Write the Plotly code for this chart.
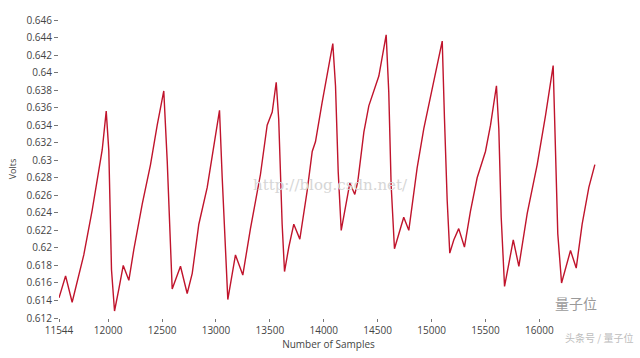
import plotly.graph_objects as go

# Sample index and voltage readings
samples = [11544, 11605, 11666, 11713, 11774, 11852, 11913, 11945, 11982,
           12006, 12031, 12059, 12099, 12140, 12192, 12238, 12316, 12393, 12455, 12516,
           12548, 12594, 12671, 12733, 12780, 12841, 12919, 12980, 13033,
           13058, 13110, 13181, 13249, 13320, 13413, 13475, 13522, 13559,
           13582, 13614, 13636, 13676, 13722, 13778, 13846, 13893, 13923, 13985, 14084,
           14109, 14134, 14162, 14202, 14242, 14288, 14316, 14372, 14418, 14511, 14579,
           14603, 14625, 14656, 14696, 14742, 14789, 14866, 14928, 15006, 15099,
           15120, 15145, 15169, 15206, 15252, 15305, 15361, 15423, 15500, 15547, 15602,
           15624, 15646, 15677, 15717, 15758, 15810, 15887, 15980, 16057, 16128,
           16150, 16171, 16206, 16252, 16289, 16342, 16397, 16459, 16515]
volts = [0.6143, 0.6168, 0.6138, 0.6161, 0.6192, 0.6243, 0.6286, 0.6312, 0.6356,
         0.6311, 0.6175, 0.6128, 0.6153, 0.6180, 0.6163, 0.6198, 0.6250, 0.6295, 0.6340, 0.6379,
         0.6299, 0.6153, 0.6179, 0.6148, 0.6171, 0.6227, 0.6269, 0.6317, 0.6357,
         0.6280, 0.6141, 0.6192, 0.6169, 0.6222, 0.6284, 0.6340, 0.6355, 0.6389,
         0.6347, 0.6227, 0.6173, 0.6201, 0.6227, 0.6210, 0.6265, 0.6310, 0.6321, 0.6366, 0.6433,
         0.6385, 0.6287, 0.6220, 0.6246, 0.6274, 0.6261, 0.6276, 0.6332, 0.6362, 0.6396, 0.6443,
         0.6378, 0.6272, 0.6199, 0.6216, 0.6235, 0.6220, 0.6291, 0.6336, 0.6382, 0.6436,
         0.6347, 0.6254, 0.6194, 0.6209, 0.6222, 0.6201, 0.6242, 0.6280, 0.6310, 0.6340, 0.6385,
         0.6336, 0.6235, 0.6156, 0.6182, 0.6209, 0.6179, 0.6239, 0.6295, 0.6351, 0.6408,
         0.6310, 0.6216, 0.6160, 0.6182, 0.6197, 0.6177, 0.6227, 0.6269, 0.6295]

x_ticks = [11544, 12000, 12500, 13000, 13500, 14000, 14500, 15000, 15500, 16000]
y_ticks = [0.612, 0.614, 0.616, 0.618, 0.62, 0.622, 0.624, 0.626, 0.628, 0.63,
           0.632, 0.634, 0.636, 0.638, 0.64, 0.642, 0.644, 0.646]
y_tick_text = [("%.3f" % v).rstrip("0") for v in y_ticks]

fig = go.Figure()
fig.add_trace(go.Scatter(x=samples, y=volts, mode="lines",
                         line=dict(color="#c0142c", width=1.4),
                         showlegend=False, hoverinfo="skip"))

font = dict(family="Open Sans, DejaVu Sans, sans-serif", size=10, color="#444444")

fig.update_layout(
    width=640, height=358,
    margin=dict(l=58, r=42, t=20, b=36),
    paper_bgcolor="white", plot_bgcolor="white",
    font=font,
    xaxis=dict(range=[11544, 16544], tickvals=x_ticks, ticktext=[str(v) for v in x_ticks],
               showgrid=False, zeroline=False, showline=False,
               ticks="outside", ticklen=3, tickcolor="#777777", tickwidth=1,
               tickfont=font,
               title=dict(text="Number of Samples", font=font, standoff=2)),
    yaxis=dict(range=[0.612, 0.646], tickvals=y_ticks, ticktext=y_tick_text,
               showgrid=False, zeroline=False, showline=False,
               ticks="outside", ticklen=4, tickcolor="#777777", tickwidth=1,
               tickfont=font,
               title=dict(text="Volts", font=dict(family=font["family"], size=9, color="#444444"),
                          standoff=8)),
)

# faint watermarks present in the reference
def dom_x(px):
    return (px - 58) / 540

def dom_y(py):
    return (322 - py) / 302

fig.add_annotation(x=dom_x(330), y=dom_y(187), xref="x domain", yref="y domain",
                   text="http://blog.csdn.net/", showarrow=False,
                   font=dict(family="DejaVu Serif, serif", size=15, color="#d6d6d6"))
fig.add_annotation(x=dom_x(598), y=dom_y(318), xref="x domain", yref="y domain",
                   text="量子位", showarrow=False, borderpad=0,
                   font=dict(family="Noto Sans CJK SC", size=14, color="#9a9a9a"))
fig.add_annotation(x=dom_x(634), y=dom_y(350), xref="x domain", yref="y domain",
                   xanchor="right", text="头条号 / 量子位", showarrow=False, borderpad=0,
                   font=dict(family="Noto Sans CJK SC", size=10, color="#bdbdbd"))

fig.write_html("out.html")
